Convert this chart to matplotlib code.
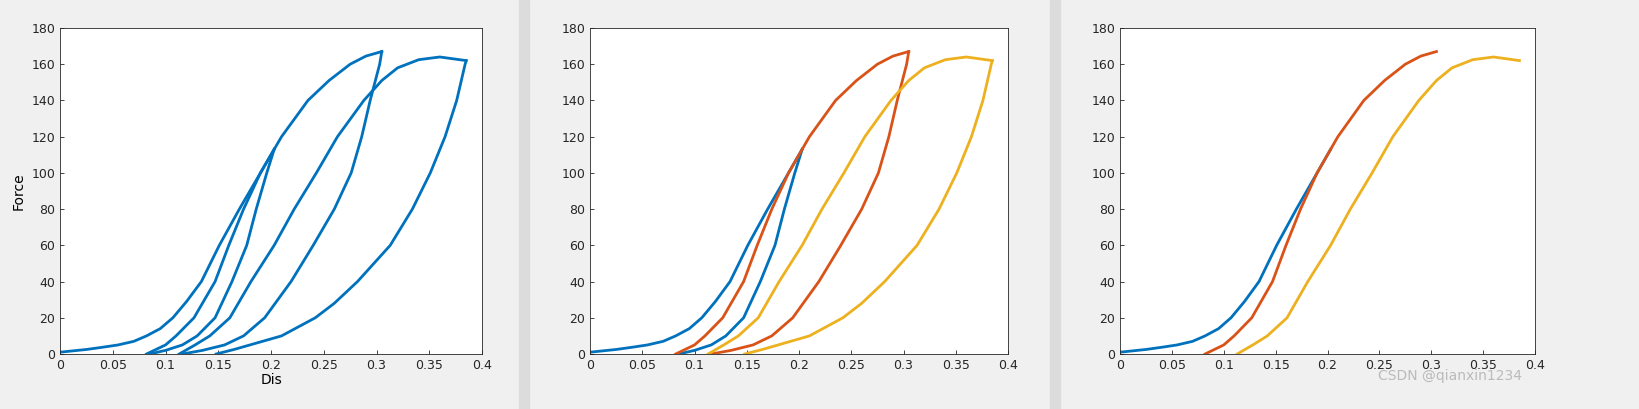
import matplotlib.pyplot as plt
from matplotlib.patches import Rectangle

# cycle 1 (blue)
b_load_x = [0, 0.025, 0.04, 0.055, 0.07, 0.082, 0.095, 0.107, 0.12, 0.134, 0.151, 0.170, 0.190, 0.203]
b_load_y = [1, 2.5, 3.7, 5, 7, 10, 14, 20, 29, 40, 60, 80, 100, 113]
b_unl_x = [0.203, 0.196, 0.186, 0.177, 0.163, 0.147, 0.130, 0.116, 0.10, 0.085]
b_unl_y = [113, 100, 80, 60, 40, 20, 10, 5, 2, 0]
# cycle 2 (orange)
o_load_x = [0.082, 0.10, 0.110, 0.127, 0.147, 0.160, 0.174, 0.190, 0.21, 0.235, 0.255, 0.275, 0.29, 0.305]
o_load_y = [0, 5, 10, 20, 40, 60, 80, 100, 120, 140, 151, 160, 164.5, 167]
o_unl_x = [0.305, 0.303, 0.294, 0.286, 0.276, 0.260, 0.240, 0.219, 0.194, 0.174, 0.156, 0.135, 0.116]
o_unl_y = [167, 160, 140, 120, 100, 80, 60, 40, 20, 10, 5, 2, 0]
# cycle 3 (yellow)
y_load_x = [0.113, 0.128, 0.142, 0.161, 0.181, 0.203, 0.222, 0.243, 0.263, 0.288, 0.305, 0.32, 0.34, 0.36, 0.385]
y_load_y = [0, 5, 10, 20, 40, 60, 80, 100, 120, 140, 151, 158, 162.5, 164, 162]
y_unl_x = [0.385, 0.384, 0.376, 0.365, 0.351, 0.334, 0.313, 0.282, 0.26, 0.242, 0.21, 0.18, 0.165, 0.148]
y_unl_y = [162, 160, 140, 120, 100, 80, 60, 40, 28, 20, 10, 5, 2.5, 0]

blue, orange, yellow = '#0072BD', '#D95319', '#EDB120'
W, H = 1639, 409

fig = plt.figure(figsize=(W / 100, H / 100), dpi=100)
fig.patch.set_facecolor('#f0f0f0')
for x0 in (519, 1050):
    fig.patches.append(Rectangle((x0 / W, 0), 10 / W, 1, transform=fig.transFigure,
                                 color='#dcdcdc', zorder=0))

bounds = [(60, 482), (590, 1008), (1120, 1535)]
axes = []
for l, r in bounds:
    ax = fig.add_axes([l / W, (H - 354) / H, (r - l) / W, 326 / H])
    ax.set_xlim(0, 0.4)
    ax.set_ylim(0, 180)
    ax.set_xticks([0, 0.05, 0.1, 0.15, 0.2, 0.25, 0.3, 0.35, 0.4])
    ax.set_xticklabels(['0', '0.05', '0.1', '0.15', '0.2', '0.25', '0.3', '0.35', '0.4'])
    ax.set_yticks(range(0, 181, 20))
    ax.tick_params(labelsize=9, direction='in', length=3, width=0.6, colors='#262626')
    for s in ax.spines.values():
        s.set_linewidth(0.6)
        s.set_color('#262626')
    axes.append(ax)

lw = 2
ax1, ax2, ax3 = axes
for xs, ys in [(b_load_x, b_load_y), (b_unl_x, b_unl_y), (o_load_x, o_load_y),
               (o_unl_x, o_unl_y), (y_load_x, y_load_y), (y_unl_x, y_unl_y)]:
    ax1.plot(xs, ys, color=blue, lw=lw)
ax1.set_xlabel('Dis', fontsize=10, labelpad=1)
ax1.set_ylabel('Force', fontsize=10)

ax2.plot(b_load_x, b_load_y, color=blue, lw=lw)
ax2.plot(b_unl_x, b_unl_y, color=blue, lw=lw)
ax2.plot(o_load_x, o_load_y, color=orange, lw=lw)
ax2.plot(o_unl_x, o_unl_y, color=orange, lw=lw)
ax2.plot(y_load_x, y_load_y, color=yellow, lw=lw)
ax2.plot(y_unl_x, y_unl_y, color=yellow, lw=lw)

ax3.plot(b_load_x, b_load_y, color=blue, lw=lw)
ax3.plot(o_load_x, o_load_y, color=orange, lw=lw)
ax3.plot(y_load_x, y_load_y, color=yellow, lw=lw)

fig.text(1378 / W, (H - 376) / H, 'CSDN @qianxin1234', fontsize=10, color='#bbbbbb', va='center')

fig.savefig('out.png', dpi=100, facecolor=fig.get_facecolor())
